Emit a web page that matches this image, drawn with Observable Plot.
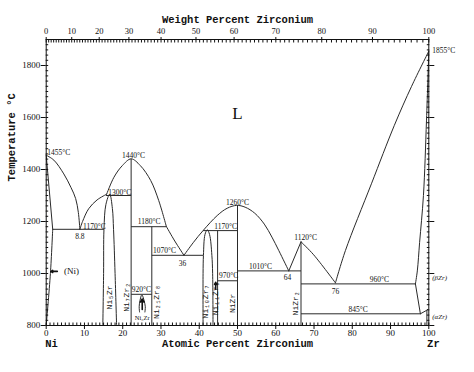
<!DOCTYPE html>
<html>
<head>
<meta charset="utf-8">
<script src="https://cdn.jsdelivr.net/npm/d3@7"></script>
<script src="https://cdn.jsdelivr.net/npm/@observablehq/plot@0.6"></script>
<style>
html,body{margin:0;padding:0;background:#fff;}
#chart svg{display:block;}
</style>
</head>
<body>
<div id="chart"></div>
<script>
// ---- axis tick values ----
const atomicTicks = [0,10,20,30,40,50,60,70,80,90,100];
const weightTicks = [0,10,20,30,40,50,60,70,80,90,100];
const tempTicks = [800,1000,1200,1400,1600,1800];

// ---- phase boundaries: [atomic % Zr, temperature °C] ----
const niLiquidus   = [[0,1455],[2,1436],[4.6,1383],[6.5,1330],[7.7,1288],[8.4,1235],[8.8,1170]];
const niSolidus    = [[0,1455],[1.7,1170]];
const niSolvus     = [[1.7,1170],[1.1,1000],[0,800]];
const ni5ZrLens    = [[14.8,800],[15.0,1000],[15.1,1170],[15.6,1265],[16.6,1305],[17.3,1250],[17.6,1170],[18.0,1000],[18.4,800]];
const liqEutToNi7  = [[8.8,1170],[9.5,1200],[11.1,1249],[13.3,1283],[15.8,1305]];
const ni7Zr2Dome   = [[15.8,1305],[17.7,1370],[19.9,1415],[22.2,1441],[24.6,1415],[27.3,1358],[29.4,1281],[31.4,1181]];
const liqTo36      = [[31.4,1181],[33.6,1125],[36,1070]];
const niZrDome     = [[36,1070],[38.5,1120],[41,1165],[44.7,1223],[47.3,1251],[49.8,1262],[52,1255],[54.5,1232],[57,1190],[59,1140],[60.8,1088],[63.4,1010]];
const niZr2Left    = [[63.4,1010],[66.6,1122]];
const niZr2Right   = [[66.6,1122],[69.9,1072],[75.6,964]];
const zrLiquidus   = [[75.6,964],[78.2,1088],[85,1345],[91,1570],[95.5,1720],[100,1855]];
const zrSolidus    = [[100,1855],[99.4,1590],[98.6,1300],[97.6,1120],[97.0,1010],[96.5,960]];
const betaSolvus   = [[96.5,960],[97.8,845]];
const alphaTransus = [[97.8,845],[99.4,858],[99.7,862]];
const alphaSolvus  = [[99.5,858],[99.5,800]];
const ni10Zr7Lens  = [[41.0,800],[41.0,1000],[41.1,1070],[41.5,1150],[42.1,1168],[42.7,1150],[43.3,1070],[43.5,1000],[43.6,800]];
const ni3ZrLens    = [[24.4,852],[24.3,872],[24.5,895],[25.0,918],[25.6,895],[25.9,872],[25.8,852]];

// invariant (horizontal) lines: [from at%, to at%, °C]
const invariants = [[1.7,15.1,1170],[15.6,22.2,1300],[22.2,31.4,1180],[27.6,41.0,1070],[41.0,50,1165],
                    [22.2,27.6,920],[44.8,50,972],[50,66.6,1010],[66.6,96.5,960],[66.6,97.8,845]];
// compounds (vertical lines): [at%, from °C, to °C]
const compounds = [[22.2,800,1441],[27.6,800,1180],[44.8,800,1165],[50,800,1262],[66.6,800,1122]];

// temperature / composition annotations (centred): [text, at%, °C]
const tempLabels = [
  ["1440°C",22.8,1454],["1300°C",19.2,1313],
  ["1170°C",12.6,1181],["8.8",8.8,1142],["1180°C",26.9,1200],
  ["1070°C",30.9,1088],["36",35.6,1040],["920°C",24.9,937],
  ["1260°C",50.0,1274],["1170°C",46.9,1182],["970°C",47.7,992],
  ["1010°C",56.0,1027],["64",63.1,983],["1120°C",67.8,1140],
  ["76",75.6,931],["960°C",87.1,977],["845°C",81.5,860]
];
// melting points of the pure elements (left-aligned): [text, at%, °C]
const meltLabels = [["1455°C",0.3,1465],["1855°C",100.9,1858]];
// phase names written vertically: [text, at%, °C]
const phaseLabels = [
  ["Ni₅Zr",16.5,908],["Ni₇Zr₂",20.9,908],["Ni₂₁Zr₈",28.8,890],["Ni₁₀Zr₇",41.6,892],
  ["Ni₁₁Zr₉",44.3,904],["NiZr",48.6,885],["NiZr₂",65.2,885]
];
const niLabel = [["(Ni)",6.6,1008]];
const ni3ZrLabel = [["Ni₃Zr",25.1,831]];
const zrSideLabels = [["(βZr)",100.9,982],["(αZr)",100.9,835]];
// pointer arrows: [x1,y1,x2,y2]
const pointers = [[2.9,1008,1.2,1008],[25.1,862,25.1,902],[44.3,940,44.3,966]];

const M_ZR = 91.224, M_NI = 58.693;
const wtToAt = w => { const z = w / M_ZR, n = (100 - w) / M_NI; return 100 * z / (z + n); };
const atToWt = a => { const z = a * M_ZR, n = (100 - a) * M_NI; return 100 * z / (z + n); };

const INK = "#2a2a2a";
const SERIF = "Liberation Serif, Times New Roman, serif";
const MONO = "Liberation Mono, DejaVu Sans Mono, monospace";
const X = d => d[0], Y = d => d[1];
const T0 = d => d[0], A1 = d => d[1], C2 = d => d[2];

const curves = [
  [niLiquidus,"catmull-rom"],[niSolidus,"linear"],[niSolvus,"catmull-rom"],[ni5ZrLens,"catmull-rom"],
  [liqEutToNi7,"catmull-rom"],[ni7Zr2Dome,"catmull-rom"],[liqTo36,"catmull-rom"],[niZrDome,"catmull-rom"],
  [niZr2Left,"linear"],[niZr2Right,"catmull-rom"],[zrLiquidus,"catmull-rom"],[zrSolidus,"catmull-rom"],
  [betaSolvus,"linear"],[alphaTransus,"linear"],[alphaSolvus,"linear"],[ni10Zr7Lens,"catmull-rom"],
  [ni3ZrLens,"catmull-rom"]
].map(([data, curve]) => Plot.line(data, {x: X, y: Y, curve, stroke: INK, strokeWidth: 1}));

const chart = Plot.plot({
  width: 474, height: 372,
  marginLeft: 45.7, marginRight: 45.7, marginTop: 39, marginBottom: 47,
  x: {domain: [0, 100]},
  y: {domain: [800, 1900]},
  style: {background: "#fff", color: "#111"},
  marks: [
    ...curves,
    Plot.link(invariants, {x1: d => d[0], x2: d => d[1], y1: d => d[2], y2: d => d[2], stroke: INK, strokeWidth: 1}),
    Plot.link(compounds, {x1: d => d[0], x2: d => d[0], y1: d => d[1], y2: d => d[2], stroke: INK, strokeWidth: 1}),
    Plot.arrow(pointers, {x1: d => d[0], y1: d => d[1], x2: d => d[2], y2: d => d[3], stroke: "#111", strokeWidth: 1.6, headLength: 4}),
    Plot.text(tempLabels, {x: A1, y: C2, text: T0, fontSize: 7.5, fontFamily: SERIF, fill: "#111"}),
    Plot.text(meltLabels, {x: A1, y: C2, text: T0, textAnchor: "start", fontSize: 7.5, fontFamily: SERIF, fill: "#111"}),
    Plot.text(phaseLabels, {x: A1, y: C2, text: T0, rotate: -90, fontSize: 8, fontFamily: MONO, fill: "#111"}),
    Plot.text(niLabel, {x: A1, y: C2, text: T0, fontSize: 9, fontFamily: SERIF, fill: "#111"}),
    Plot.text(ni3ZrLabel, {x: A1, y: C2, text: T0, fontSize: 6.5, fontFamily: SERIF, fill: "#111"}),
    Plot.text(zrSideLabels, {x: A1, y: C2, text: T0, textAnchor: "start", fontSize: 7, fontStyle: "italic", fontFamily: SERIF, fill: "#111"}),
    Plot.text(["L"], {x: 50, y: 1615, text: d => d, fontSize: 17, fontFamily: SERIF, fill: "#111"}),
    Plot.frame({stroke: "#111", strokeWidth: 1}),
    // axes
    Plot.axisY(tempTicks, {anchor: "left", tickSize: 5, tickPadding: 1, fontSize: 9, fontFamily: SERIF, tickFormat: d3.format("d"), label: null}),
    Plot.axisY(d3.range(800, 1901, 20), {anchor: "left", tickSize: -2.5, tickFormat: () => "", label: null}),
    Plot.axisY(d3.range(800, 1901, 200), {anchor: "right", tickSize: 5, tickFormat: () => "", label: null}),
    Plot.axisY(d3.range(800, 1901, 20), {anchor: "right", tickSize: -2.5, tickFormat: () => "", label: null}),
    Plot.axisX(atomicTicks, {anchor: "bottom", tickSize: 4, tickPadding: 0, fontSize: 9, fontFamily: SERIF, tickFormat: d3.format("d"), label: null}),
    Plot.axisX(d3.range(0, 101, 1), {anchor: "bottom", tickSize: -2.5, tickFormat: () => "", label: null}),
    Plot.axisX(weightTicks.map(wtToAt), {anchor: "top", tickSize: 3, tickPadding: 3, fontSize: 8.5, fontFamily: SERIF, tickFormat: d => String(Math.round(atToWt(d))), label: null}),
    Plot.axisX(d3.range(0, 101, 1).map(wtToAt), {anchor: "top", tickSize: -2.5, tickFormat: () => "", label: null}),
    // axis titles
    Plot.text(["Weight Percent Zirconium"], {frameAnchor: "top", dy: -24, text: d => d, fontSize: 10.5, fontWeight: "bold", fontFamily: MONO, fill: "#111"}),
    Plot.text(["Atomic Percent Zirconium"], {frameAnchor: "bottom", dy: 21, text: d => d, fontSize: 10.5, fontWeight: "bold", fontFamily: MONO, fill: "#111"}),
    Plot.text(["Ni"], {x: 1.4, frameAnchor: "bottom", dy: 21, text: d => d, fontSize: 10.5, fontWeight: "bold", fontFamily: MONO, fill: "#111"}),
    Plot.text(["Zr"], {x: 101.2, frameAnchor: "bottom", dy: 21, text: d => d, fontSize: 10.5, fontWeight: "bold", fontFamily: MONO, fill: "#111"}),
    Plot.text(["Temperature °C"], {y: 1354, frameAnchor: "left", dx: -34.7, rotate: -90, text: d => d, fontSize: 10.5, fontWeight: "bold", fontFamily: MONO, fill: "#111"})
  ]
});
document.getElementById("chart").appendChild(chart);
</script>
</body>
</html>
